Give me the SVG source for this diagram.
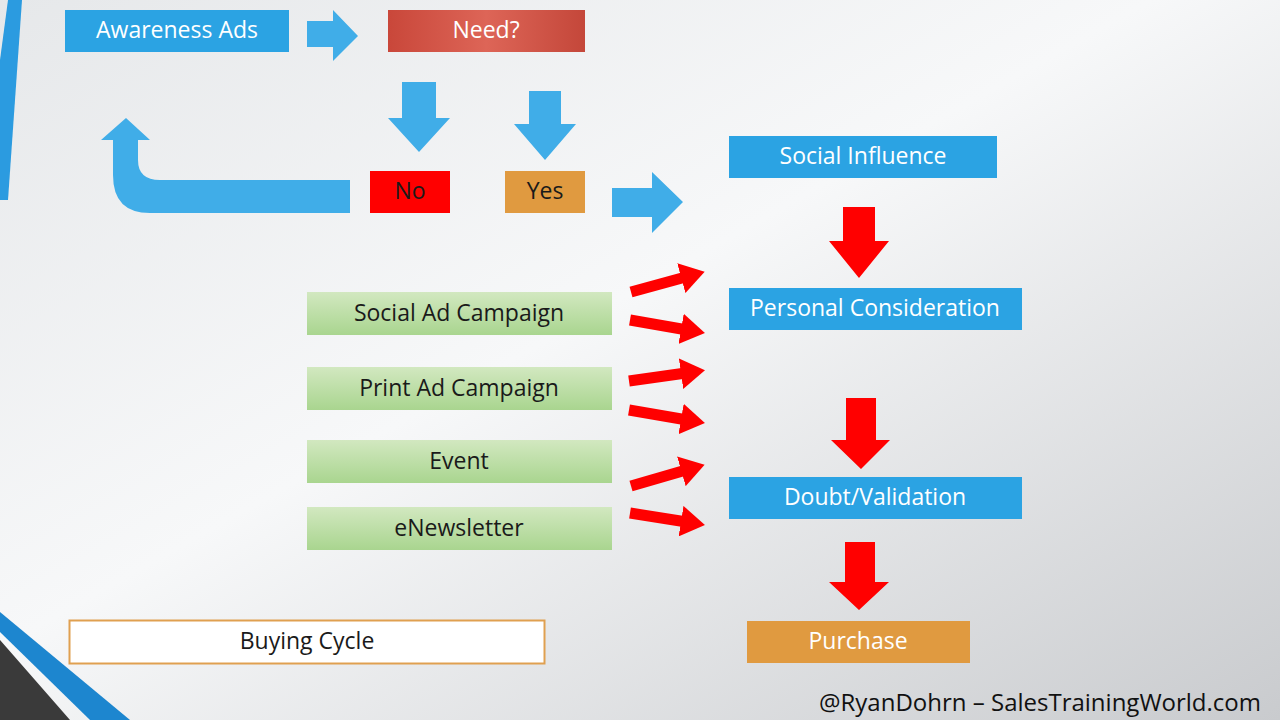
<svg xmlns="http://www.w3.org/2000/svg" width="1280" height="720" viewBox="0 0 1280 720">
<defs>
<linearGradient id="bg" x1="0" y1="0" x2="1" y2="1"><stop offset="0" stop-color="#e6e8ea"/><stop offset="0.45" stop-color="#f7f8f9"/><stop offset="1" stop-color="#c9cbce"/></linearGradient>
<linearGradient id="green" x1="0" y1="0" x2="0" y2="1"><stop offset="0" stop-color="#d2e8c0"/><stop offset="1" stop-color="#a9d58f"/></linearGradient>
<linearGradient id="redg" x1="0" y1="0" x2="1" y2="0"><stop offset="0" stop-color="#c9473a"/><stop offset="0.5" stop-color="#dd6557"/><stop offset="1" stop-color="#c4473a"/></linearGradient>
<marker id="rh" viewBox="0 0 10 10" refX="5" refY="5" markerWidth="2.2" markerHeight="2.8" orient="auto" markerUnits="strokeWidth" preserveAspectRatio="none"><path d="M0,0 L10,5 L0,10 Z" fill="#ff0000"/></marker>
<style>
.bl{fill:#2ba3e3}
.ba{fill:#40ade8}
.rd{fill:#ff0000}
.t{font-family:"Open Sans","Liberation Sans",sans-serif;font-size:23px;text-anchor:middle}
.w{fill:#ffffff}
.k{fill:#1a1a1a}
.ra{stroke:#ff0000;stroke-width:11;fill:none;marker-end:url(#rh)}
</style>
</defs>
<rect width="1280" height="720" fill="url(#bg)"/>
<polygon points="8,0 22,0 8,200 0,200 0,60" fill="#2b9be0"/>
<polygon points="0,640 0,720 70,720" fill="#3a3a3a"/>
<polygon points="0,612 0,632 90,720 130,720" fill="#1d86cf"/>
<text x="1040" y="711" font-family="Open Sans, Liberation Sans, sans-serif" font-size="24" text-anchor="middle" fill="#111">@RyanDohrn – SalesTrainingWorld.com</text>

<g id="connectors">
<polygon class="ba" points="307,21 333,21 333,10 358,36 333,61 333,47 307,47"/>
<polygon class="ba" points="402,82 436,82 436,118 450,118 419,152 388,118 402,118"/>
<polygon class="ba" points="529,91 561,91 561,124 576,124 545,160 514,124 529,124"/>
<polygon class="ba" points="612,188 652,188 652,172 683,202 652,233 652,217 612,217"/>
<path class="ba" d="M350,180 L160,180 Q138,180 138,160 L138,140 L150,140 L126,118 L101,140 L113,140 L113,175 Q113,213 150,213 L350,213 Z"/>
<polygon class="rd" points="843,207 875,207 875,241 889,241 859,278 829,241 843,241"/>
<polygon class="rd" points="846,398 876,398 876,440 890,440 861,469 831,440 846,440"/>
<polygon class="rd" points="845,542 875,542 875,582 889,582 859,610 829,582 845,582"/>
<path class="ra" d="M631,292 L693,275"/>
<path class="ra" d="M630,320 L693,331"/>
<path class="ra" d="M629,381 L693,372"/>
<path class="ra" d="M629,410 L693,421"/>
<path class="ra" d="M631,486 L693,468"/>
<path class="ra" d="M630,513 L693,523"/>
</g>

<g id="awareness"><rect x="65" y="10" width="224" height="42" class="bl"/><text class="t w" x="177" y="38">Awareness Ads</text></g>
<g id="need"><rect x="388" y="10" width="197" height="42" fill="url(#redg)"/><text class="t w" x="486" y="38">Need?</text></g>
<g id="no"><rect x="370" y="171" width="80" height="42" fill="#ff0000"/><text class="t k" x="410" y="199">No</text></g>
<g id="yes"><rect x="505" y="171" width="80" height="42" fill="#e09a40"/><text class="t k" x="545" y="199">Yes</text></g>
<g id="social-influence"><rect x="729" y="136" width="268" height="42" class="bl"/><text class="t w" x="863" y="164">Social Influence</text></g>
<g id="personal"><rect x="729" y="288" width="293" height="42" class="bl"/><text class="t w" x="875" y="316">Personal Consideration</text></g>
<g id="doubt"><rect x="729" y="477" width="293" height="42" class="bl"/><text class="t w" x="875" y="505">Doubt/Validation</text></g>
<g id="purchase"><rect x="747" y="621" width="223" height="42" fill="#e09a40"/><text class="t w" x="858" y="649">Purchase</text></g>
<g id="social-ad"><rect x="307" y="292" width="305" height="43" fill="url(#green)"/><text class="t k" x="459" y="321">Social Ad Campaign</text></g>
<g id="print-ad"><rect x="307" y="367" width="305" height="43" fill="url(#green)"/><text class="t k" x="459" y="396">Print Ad Campaign</text></g>
<g id="event"><rect x="307" y="440" width="305" height="43" fill="url(#green)"/><text class="t k" x="459" y="469">Event</text></g>
<g id="enewsletter"><rect x="307" y="507" width="305" height="43" fill="url(#green)"/><text class="t k" x="459" y="536">eNewsletter</text></g>
<g id="buying-cycle"><rect x="69.5" y="620.5" width="475" height="43" fill="#ffffff" stroke="#e0a050" stroke-width="2"/><text class="t k" x="307" y="649">Buying Cycle</text></g>
</svg>
